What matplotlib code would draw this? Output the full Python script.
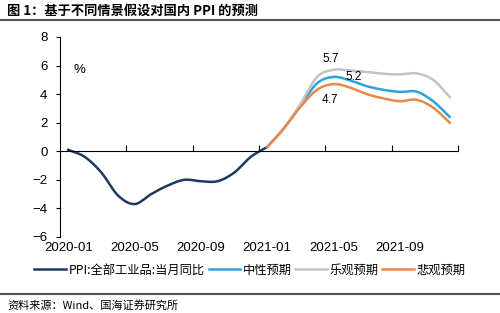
import numpy as np
import matplotlib.pyplot as plt
from matplotlib.lines import Line2D
import matplotlib.transforms as mtransforms

plt.rcParams['font.family'] = ['Liberation Sans', 'Noto Sans CJK SC', 'DejaVu Sans']

months = ['2020-01', '2020-02', '2020-03', '2020-04', '2020-05', '2020-06', '2020-07',
          '2020-08', '2020-09', '2020-10', '2020-11', '2020-12', '2021-01', '2021-02',
          '2021-03', '2021-04', '2021-05', '2021-06', '2021-07', '2021-08', '2021-09',
          '2021-10', '2021-11', '2021-12']
ppi = [0.1, -0.4, -1.5, -3.1, -3.7, -3.0, -2.4, -2.0, -2.1, -2.1, -1.5, -0.4, 0.3]
# forecasts start at 2021-01
neutral = [0.3, 1.6, 3.2, 4.75, 5.2, 4.95, 4.55, 4.3, 4.15, 4.17, 3.5, 2.4]
optimistic = [0.3, 1.6, 3.3, 5.2, 5.7, 5.65, 5.55, 5.42, 5.38, 5.45, 5.0, 3.8]
pessimistic = [0.3, 1.6, 3.1, 4.3, 4.7, 4.45, 4.0, 3.7, 3.5, 3.6, 3.05, 2.0]
tick_labels = ['2020-01', '2020-05', '2020-09', '2021-01', '2021-05', '2021-09']

names = ['PPI:全部工业品:当月同比', '中性预期', '乐观预期', '悲观预期']
colors = ['#1F3A5F', '#2EA3DA', '#C3C3C3', '#E8894A']


def smooth(x, y, n=20):
    # catmull-rom style smoothing like excel's smoothed line
    x = np.asarray(x, float)
    y = np.asarray(y, float)
    px = np.concatenate([[2 * x[0] - x[1]], x, [2 * x[-1] - x[-2]]])
    py = np.concatenate([[2 * y[0] - y[1]], y, [2 * y[-1] - y[-2]]])
    xs, ys = [], []
    t = np.linspace(0, 1, n, endpoint=False)
    for i in range(1, len(px) - 2):
        for arr, out in ((px, xs), (py, ys)):
            p0, p1, p2, p3 = arr[i - 1], arr[i], arr[i + 1], arr[i + 2]
            out.extend(0.5 * (2 * p1 + (-p0 + p2) * t + (2 * p0 - 5 * p1 + 4 * p2 - p3) * t ** 2
                              + (-p0 + 3 * p1 - 3 * p2 + p3) * t ** 3))
    xs.append(x[-1])
    ys.append(y[-1])
    return xs, ys


fig = plt.figure(figsize=(5, 3.13), dpi=100)
ax = fig.add_axes([0.12, 0.243, 0.796, 0.639])

xp = np.arange(len(ppi))
xf = np.arange(12, 12 + len(neutral))
ax.plot(*smooth(xp, ppi), color=colors[0], lw=1.8)
ax.plot(*smooth(xf, neutral), color=colors[1], lw=1.8)
ax.plot(*smooth(xf, optimistic), color=colors[2], lw=1.8)
ax.plot(*smooth(xf, pessimistic), color=colors[3], lw=1.8)

ax.set_xlim(-0.5, len(months) - 0.5)
ax.set_ylim(-6, 8)
ax.set_yticks(np.arange(-6, 9, 2))
ax.tick_params(axis='y', labelsize=9.5, length=3, width=0.8, pad=6)
for s in ['top', 'right']:
    ax.spines[s].set_visible(False)
ax.spines['bottom'].set_position(('data', 0))
ax.spines['left'].set_linewidth(0.8)
ax.spines['bottom'].set_linewidth(0.8)
ax.set_xticks(np.arange(3.5, len(months), 4))
ax.tick_params(axis='x', direction='in', length=4, width=0.8, labelbottom=False)

trans = mtransforms.blended_transform_factory(ax.transData, ax.transAxes)
for lab in tick_labels:
    ax.text(months.index(lab), -0.025, lab, transform=trans, ha='center', va='top', fontsize=9.5)

ax.text(0.05, 0.835, '%', transform=ax.transAxes, fontsize=9.5, ha='center', va='center')
ax.text(15.8, max(optimistic) + 0.55, '%.1f' % max(optimistic), fontsize=8.5, ha='center')
ax.text(17.2, max(neutral) - 0.2, '%.1f' % max(neutral), fontsize=8.5, ha='center')
ax.text(15.8, max(pessimistic) - 1.3, '%.1f' % max(pessimistic), fontsize=8.5, ha='center')

handles = [Line2D([], [], color=c, lw=1.8) for c in colors]
fig.legend(handles, names, loc='center', bbox_to_anchor=(0.5, 0.137), ncol=4, frameon=False,
           handlelength=2.6, handletextpad=0.2, columnspacing=0.3,
           prop={'family': ['Noto Sans CJK SC', 'DejaVu Sans'], 'size': 8.8})

fig.text(0.014, 0.965, '图 1：基于不同情景假设对国内 PPI 的预测', fontsize=9.5, fontweight='bold',
         va='center', family=['Noto Sans CJK SC', 'DejaVu Sans'])
fig.add_artist(Line2D([0, 1], [0.935, 0.935], color='#555555', lw=1.5, transform=fig.transFigure))
fig.add_artist(Line2D([0, 1], [0.06, 0.06], color='#555555', lw=1.5, transform=fig.transFigure))
fig.text(0.014, 0.025, '资料来源：Wind、国海证券研究所', fontsize=8, va='center',
         family=['Noto Sans CJK SC', 'DejaVu Sans'])

fig.savefig('out.png', dpi=100)
